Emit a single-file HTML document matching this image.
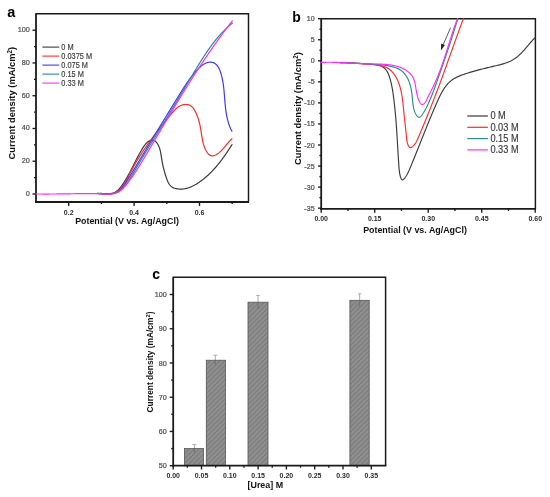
<!DOCTYPE html>
<html><head><meta charset="utf-8"><style>
html,body{margin:0;padding:0;background:#fff;}
svg{display:block;font-family:'Liberation Sans', Arial, sans-serif;}
</style></head><body>
<svg width="550" height="497" viewBox="0 0 550 497">
<rect width="550" height="497" fill="#fff"/>
<polyline points="36.0,13.7 248.5,13.7 248.5,202.0" fill="none" stroke="#1a1a1a" stroke-width="1.45" stroke-linejoin="miter"/>
<line x1="36.0" y1="13.2" x2="36.0" y2="202.9" stroke="#1a1a1a" stroke-width="1.8"/>
<line x1="35.1" y1="202.0" x2="249.0" y2="202.0" stroke="#1a1a1a" stroke-width="1.8"/>
<line x1="32.5" y1="194.00" x2="36.0" y2="194.00" stroke="#1a1a1a" stroke-width="1.35"/>
<text transform="translate(29.8,196.00) scale(1,1.1)" font-size="7.3" fill="#505050" stroke="#505050" stroke-width="0.22" text-anchor="end">0</text>
<line x1="32.5" y1="161.24" x2="36.0" y2="161.24" stroke="#1a1a1a" stroke-width="1.35"/>
<text transform="translate(29.8,163.24) scale(1,1.1)" font-size="7.3" fill="#505050" stroke="#505050" stroke-width="0.22" text-anchor="end">20</text>
<line x1="32.5" y1="128.48" x2="36.0" y2="128.48" stroke="#1a1a1a" stroke-width="1.35"/>
<text transform="translate(29.8,130.48) scale(1,1.1)" font-size="7.3" fill="#505050" stroke="#505050" stroke-width="0.22" text-anchor="end">40</text>
<line x1="32.5" y1="95.72" x2="36.0" y2="95.72" stroke="#1a1a1a" stroke-width="1.35"/>
<text transform="translate(29.8,97.72) scale(1,1.1)" font-size="7.3" fill="#505050" stroke="#505050" stroke-width="0.22" text-anchor="end">60</text>
<line x1="32.5" y1="62.96" x2="36.0" y2="62.96" stroke="#1a1a1a" stroke-width="1.35"/>
<text transform="translate(29.8,64.96) scale(1,1.1)" font-size="7.3" fill="#505050" stroke="#505050" stroke-width="0.22" text-anchor="end">80</text>
<line x1="32.5" y1="30.20" x2="36.0" y2="30.20" stroke="#1a1a1a" stroke-width="1.35"/>
<text transform="translate(29.8,32.20) scale(1,1.1)" font-size="7.3" fill="#505050" stroke="#505050" stroke-width="0.22" text-anchor="end">100</text>
<line x1="34.0" y1="177.62" x2="36.0" y2="177.62" stroke="#1a1a1a" stroke-width="1.35"/>
<line x1="34.0" y1="144.86" x2="36.0" y2="144.86" stroke="#1a1a1a" stroke-width="1.35"/>
<line x1="34.0" y1="112.10" x2="36.0" y2="112.10" stroke="#1a1a1a" stroke-width="1.35"/>
<line x1="34.0" y1="79.34" x2="36.0" y2="79.34" stroke="#1a1a1a" stroke-width="1.35"/>
<line x1="34.0" y1="46.58" x2="36.0" y2="46.58" stroke="#1a1a1a" stroke-width="1.35"/>
<line x1="68.70" y1="202.0" x2="68.70" y2="206.0" stroke="#1a1a1a" stroke-width="1.35"/>
<text transform="translate(68.70,214.6) scale(1,1.1)" font-size="7" font-weight="bold" fill="#2a2a2a" text-anchor="middle">0.2</text>
<line x1="134.10" y1="202.0" x2="134.10" y2="206.0" stroke="#1a1a1a" stroke-width="1.35"/>
<text transform="translate(134.10,214.6) scale(1,1.1)" font-size="7" font-weight="bold" fill="#2a2a2a" text-anchor="middle">0.4</text>
<line x1="199.50" y1="202.0" x2="199.50" y2="206.0" stroke="#1a1a1a" stroke-width="1.35"/>
<text transform="translate(199.50,214.6) scale(1,1.1)" font-size="7" font-weight="bold" fill="#2a2a2a" text-anchor="middle">0.6</text>
<line x1="101.40" y1="202.0" x2="101.40" y2="204.0" stroke="#1a1a1a" stroke-width="1.35"/>
<line x1="166.80" y1="202.0" x2="166.80" y2="204.0" stroke="#1a1a1a" stroke-width="1.35"/>
<line x1="232.20" y1="202.0" x2="232.20" y2="204.0" stroke="#1a1a1a" stroke-width="1.35"/>
<text x="127" y="223.6" font-size="8.9" font-weight="bold" fill="#111" text-anchor="middle">Potential (V vs. Ag/AgCl)</text>
<text transform="translate(15.0,103.1) rotate(-90)" x="0" y="0" font-size="9.35" font-weight="bold" fill="#111" text-anchor="middle">Current density (mA/cm<tspan font-size="6.3" dy="-3.4">2</tspan><tspan dy="3.4">)</tspan></text>
<text x="7.2" y="17.2" font-size="14.5" font-weight="bold" fill="#000">a</text>
<line x1="42.4" y1="47.10" x2="59.3" y2="47.10" stroke="#3a3a3a" stroke-width="1.1"/>
<text transform="translate(61.3,49.80) scale(1,1.1)" font-size="7.4" fill="#3c3c3c" stroke="#3c3c3c" stroke-width="0.15">0 M</text>
<line x1="42.4" y1="56.10" x2="59.3" y2="56.10" stroke="#ff2a2a" stroke-width="1.1"/>
<text transform="translate(61.3,58.80) scale(1,1.1)" font-size="7.4" fill="#3c3c3c" stroke="#3c3c3c" stroke-width="0.15">0.0375 M</text>
<line x1="42.4" y1="65.10" x2="59.3" y2="65.10" stroke="#3a3aff" stroke-width="1.1"/>
<text transform="translate(61.3,67.80) scale(1,1.1)" font-size="7.4" fill="#3c3c3c" stroke="#3c3c3c" stroke-width="0.15">0.075 M</text>
<line x1="42.4" y1="74.10" x2="59.3" y2="74.10" stroke="#2a8c8c" stroke-width="1.1"/>
<text transform="translate(61.3,76.80) scale(1,1.1)" font-size="7.4" fill="#3c3c3c" stroke="#3c3c3c" stroke-width="0.15">0.15 M</text>
<line x1="42.4" y1="83.10" x2="59.3" y2="83.10" stroke="#ff2aff" stroke-width="1.1"/>
<text transform="translate(61.3,85.80) scale(1,1.1)" font-size="7.4" fill="#3c3c3c" stroke="#3c3c3c" stroke-width="0.15">0.33 M</text>
<g>
<polyline points="98.05,193.73 98.55,193.62 99.05,193.54 99.56,193.49 100.09,193.45 100.62,193.44 101.16,193.44 101.71,193.45 102.27,193.48 102.83,193.51 103.39,193.55 103.96,193.60 104.53,193.65 105.10,193.71 105.67,193.76 106.24,193.80 106.80,193.84 107.37,193.88 107.93,193.90 108.49,193.91 109.04,193.91 109.58,193.89 110.12,193.85 110.65,193.79 111.17,193.70 111.68,193.60 112.18,193.47 112.67,193.32 113.15,193.15 113.62,192.95 114.09,192.74 114.55,192.51 115.00,192.26 115.44,192.00 115.87,191.71 116.29,191.42 116.71,191.10 117.12,190.78 117.52,190.43 117.92,190.08 118.31,189.71 118.69,189.34 119.06,188.95 119.43,188.55 119.80,188.14 120.15,187.72 120.51,187.30 120.85,186.87 121.19,186.43 121.53,185.99 121.86,185.54 122.18,185.09 122.50,184.63 122.82,184.17 123.13,183.71 123.44,183.25 123.74,182.79 124.04,182.32 124.34,181.86 124.63,181.40 124.92,180.94 125.21,180.48 125.49,180.02 125.77,179.56 126.04,179.10 126.32,178.63 126.59,178.17 126.85,177.71 127.12,177.26 127.38,176.80 127.64,176.34 127.90,175.88 128.16,175.42 128.41,174.96 128.66,174.50 128.91,174.04 129.16,173.58 129.41,173.12 129.65,172.65 129.89,172.19 130.14,171.73 130.38,171.27 130.62,170.81 130.86,170.35 131.10,169.88 131.33,169.42 131.57,168.96 131.81,168.49 132.04,168.03 132.28,167.56 132.51,167.10 132.75,166.63 132.98,166.17 133.22,165.70 133.45,165.23 133.69,164.76 133.92,164.29 134.16,163.82 134.40,163.35 134.64,162.88 134.88,162.40 135.12,161.93 135.36,161.45 135.60,160.98 135.84,160.50 136.09,160.02 136.33,159.54 136.58,159.06 136.83,158.58 137.08,158.10 137.34,157.62 137.59,157.13 137.85,156.64 138.11,156.16 138.37,155.67 138.64,155.18 138.91,154.69 139.18,154.19 139.45,153.70 139.73,153.20 140.01,152.71 140.29,152.21 140.57,151.71 140.86,151.21 141.16,150.70 141.45,150.20 141.75,149.69 142.06,149.18 142.36,148.67 142.68,148.17 142.99,147.67 143.31,147.17 143.64,146.68 143.97,146.19 144.30,145.72 144.64,145.25 144.99,144.80 145.34,144.36 145.70,143.93 146.06,143.52 146.43,143.13 146.81,142.75 147.19,142.40 147.57,142.06 147.97,141.75 148.37,141.47 148.78,141.20 149.19,140.97 149.62,140.76 150.05,140.59 150.49,140.44 150.93,140.33 151.39,140.25 151.85,140.21 152.32,140.20 152.79,140.23 153.27,140.31 153.74,140.42 154.19,140.58 154.63,140.79 155.06,141.05 155.46,141.35 155.84,141.69 156.20,142.06 156.55,142.46 156.88,142.88 157.19,143.31 157.49,143.76 157.77,144.22 158.04,144.68 158.29,145.16 158.53,145.64 158.75,146.13 158.96,146.63 159.16,147.14 159.35,147.65 159.53,148.17 159.70,148.69 159.86,149.22 160.01,149.75 160.15,150.29 160.28,150.83 160.41,151.38 160.53,151.93 160.64,152.48 160.75,153.03 160.85,153.59 160.95,154.14 161.04,154.70 161.14,155.26 161.23,155.82 161.31,156.38 161.40,156.93 161.48,157.49 161.57,158.05 161.65,158.60 161.74,159.15 161.83,159.69 161.92,160.24 162.01,160.78 162.10,161.32 162.20,161.85 162.29,162.39 162.39,162.92 162.50,163.44 162.60,163.97 162.71,164.49 162.82,165.01 162.93,165.53 163.05,166.05 163.16,166.57 163.28,167.08 163.40,167.59 163.53,168.11 163.65,168.62 163.78,169.13 163.91,169.64 164.05,170.15 164.19,170.66 164.33,171.17 164.47,171.67 164.61,172.18 164.76,172.69 164.91,173.20 165.07,173.71 165.22,174.22 165.38,174.73 165.55,175.24 165.71,175.75 165.88,176.27 166.05,176.78 166.23,177.30 166.40,177.82 166.58,178.34 166.77,178.86 166.96,179.38 167.15,179.90 167.35,180.42 167.56,180.93 167.78,181.44 168.00,181.94 168.24,182.43 168.49,182.91 168.76,183.38 169.03,183.84 169.32,184.28 169.63,184.71 169.96,185.12 170.30,185.51 170.67,185.88 171.05,186.24 171.46,186.56 171.88,186.87 172.33,187.15 172.79,187.42 173.27,187.66 173.77,187.88 174.28,188.07 174.80,188.25 175.33,188.42 175.87,188.56 176.42,188.68 176.97,188.79 177.53,188.88 178.09,188.96 178.65,189.02 179.21,189.06 179.77,189.09 180.33,189.11 180.88,189.11 181.43,189.10 181.97,189.07 182.52,189.04 183.06,188.99 183.59,188.93 184.13,188.85 184.66,188.77 185.19,188.67 185.71,188.57 186.23,188.45 186.75,188.32 187.27,188.18 187.78,188.03 188.29,187.87 188.80,187.70 189.31,187.53 189.81,187.34 190.31,187.14 190.80,186.94 191.30,186.73 191.79,186.51 192.28,186.28 192.76,186.05 193.25,185.81 193.73,185.56 194.20,185.31 194.68,185.05 195.15,184.78 195.62,184.51 196.08,184.24 196.55,183.95 197.01,183.67 197.47,183.38 197.92,183.08 198.38,182.78 198.83,182.48 199.28,182.18 199.72,181.87 200.16,181.55 200.60,181.24 201.04,180.92 201.48,180.60 201.91,180.28 202.34,179.95 202.77,179.62 203.20,179.29 203.62,178.95 204.04,178.61 204.46,178.27 204.87,177.93 205.29,177.58 205.70,177.23 206.11,176.88 206.52,176.52 206.92,176.16 207.32,175.80 207.72,175.44 208.12,175.08 208.52,174.71 208.91,174.34 209.30,173.97 209.69,173.59 210.08,173.21 210.46,172.83 210.85,172.45 211.23,172.07 211.61,171.68 211.98,171.29 212.36,170.90 212.73,170.51 213.10,170.12 213.47,169.72 213.84,169.32 214.20,168.92 214.56,168.52 214.92,168.12 215.28,167.71 215.64,167.30 215.99,166.89 216.35,166.48 216.70,166.07 217.05,165.66 217.40,165.24 217.74,164.82 218.09,164.40 218.43,163.98 218.77,163.56 219.11,163.14 219.45,162.71 219.78,162.29 220.12,161.86 220.45,161.43 220.78,161.00 221.11,160.57 221.44,160.14 221.76,159.70 222.09,159.27 222.41,158.83 222.73,158.39 223.05,157.96 223.37,157.52 223.68,157.08 224.00,156.64 224.31,156.19 224.62,155.75 224.93,155.31 225.24,154.86 225.55,154.42 225.86,153.97 226.16,153.53 226.47,153.08 226.77,152.63 227.07,152.18 227.37,151.74 227.67,151.29 227.97,150.84 228.26,150.39 228.56,149.94 228.85,149.49 229.15,149.03 229.44,148.58 229.73,148.13 230.02,147.68 230.30,147.23 230.59,146.77 230.88,146.32 231.16,145.87 231.44,145.42 231.73,144.97 232.01,144.51" fill="none" stroke="#3a3a3a" stroke-width="1.2" stroke-linejoin="round" stroke-linecap="round"/>
<polyline points="98.06,193.43 98.57,193.49 99.09,193.55 99.62,193.60 100.16,193.65 100.71,193.70 101.26,193.75 101.81,193.79 102.37,193.82 102.94,193.85 103.51,193.87 104.08,193.89 104.65,193.90 105.23,193.90 105.80,193.90 106.38,193.88 106.96,193.86 107.53,193.83 108.10,193.79 108.67,193.75 109.24,193.69 109.81,193.62 110.37,193.54 110.92,193.45 111.47,193.34 112.01,193.23 112.55,193.10 113.08,192.96 113.60,192.81 114.11,192.64 114.61,192.46 115.10,192.26 115.58,192.05 116.05,191.83 116.51,191.59 116.96,191.34 117.40,191.07 117.83,190.79 118.26,190.50 118.67,190.19 119.07,189.88 119.47,189.55 119.86,189.21 120.24,188.86 120.61,188.50 120.98,188.13 121.33,187.75 121.68,187.36 122.03,186.96 122.37,186.55 122.70,186.13 123.03,185.70 123.35,185.27 123.66,184.83 123.97,184.38 124.27,183.93 124.58,183.47 124.87,183.00 125.16,182.53 125.45,182.05 125.73,181.57 126.02,181.08 126.29,180.59 126.57,180.09 126.84,179.59 127.11,179.09 127.38,178.58 127.64,178.07 127.91,177.56 128.17,177.05 128.43,176.54 128.69,176.02 128.95,175.51 129.21,174.99 129.47,174.47 129.73,173.96 129.99,173.44 130.25,172.93 130.51,172.41 130.78,171.90 131.04,171.39 131.30,170.88 131.57,170.38 131.84,169.87 132.10,169.37 132.37,168.86 132.64,168.36 132.91,167.86 133.18,167.36 133.46,166.87 133.73,166.37 134.01,165.88 134.28,165.38 134.56,164.89 134.84,164.40 135.11,163.91 135.39,163.43 135.68,162.94 135.96,162.45 136.24,161.97 136.52,161.49 136.81,161.01 137.09,160.53 137.38,160.05 137.67,159.57 137.96,159.09 138.24,158.62 138.53,158.14 138.83,157.67 139.12,157.20 139.41,156.73 139.70,156.26 140.00,155.79 140.29,155.32 140.59,154.85 140.89,154.39 141.19,153.92 141.49,153.46 141.79,153.00 142.09,152.53 142.39,152.07 142.69,151.61 143.00,151.15 143.30,150.69 143.60,150.24 143.91,149.78 144.22,149.32 144.53,148.87 144.83,148.41 145.14,147.96 145.45,147.51 145.76,147.06 146.08,146.61 146.39,146.16 146.70,145.71 147.02,145.26 147.33,144.81 147.65,144.36 147.96,143.91 148.28,143.47 148.60,143.02 148.92,142.58 149.24,142.13 149.56,141.69 149.88,141.25 150.20,140.80 150.52,140.36 150.85,139.92 151.17,139.48 151.50,139.04 151.82,138.60 152.15,138.16 152.48,137.72 152.80,137.28 153.13,136.84 153.46,136.40 153.79,135.96 154.12,135.53 154.45,135.09 154.79,134.65 155.12,134.22 155.45,133.78 155.79,133.35 156.12,132.91 156.46,132.47 156.79,132.04 157.13,131.60 157.47,131.17 157.80,130.74 158.14,130.30 158.48,129.87 158.82,129.43 159.16,129.00 159.50,128.57 159.84,128.13 160.19,127.70 160.53,127.27 160.87,126.83 161.22,126.40 161.56,125.97 161.91,125.53 162.25,125.10 162.60,124.67 162.95,124.23 163.30,123.80 163.64,123.37 163.99,122.94 164.34,122.50 164.69,122.07 165.04,121.63 165.39,121.20 165.74,120.77 166.10,120.33 166.45,119.90 166.80,119.46 167.16,119.03 167.51,118.59 167.86,118.16 168.22,117.72 168.58,117.29 168.93,116.85 169.29,116.42 169.65,115.98 170.00,115.54 170.36,115.10 170.72,114.67 171.08,114.23 171.44,113.79 171.80,113.35 172.16,112.92 172.52,112.48 172.89,112.05 173.26,111.62 173.63,111.19 174.00,110.78 174.38,110.36 174.77,109.96 175.16,109.56 175.55,109.17 175.95,108.79 176.36,108.42 176.78,108.06 177.20,107.71 177.63,107.38 178.07,107.06 178.51,106.75 178.97,106.46 179.44,106.19 179.92,105.93 180.40,105.69 180.90,105.47 181.42,105.27 181.94,105.09 182.48,104.93 183.02,104.80 183.57,104.68 184.13,104.59 184.70,104.53 185.26,104.49 185.82,104.47 186.38,104.49 186.94,104.53 187.48,104.59 188.02,104.69 188.55,104.82 189.06,104.98 189.56,105.17 190.04,105.39 190.50,105.64 190.95,105.93 191.37,106.24 191.78,106.59 192.17,106.95 192.54,107.34 192.90,107.75 193.24,108.18 193.57,108.63 193.89,109.10 194.20,109.57 194.49,110.06 194.78,110.56 195.05,111.07 195.31,111.58 195.57,112.10 195.82,112.62 196.06,113.14 196.29,113.66 196.52,114.18 196.74,114.70 196.95,115.22 197.16,115.73 197.36,116.25 197.55,116.77 197.74,117.29 197.93,117.81 198.10,118.33 198.28,118.85 198.44,119.37 198.61,119.90 198.76,120.42 198.91,120.94 199.06,121.47 199.20,121.99 199.34,122.52 199.47,123.05 199.60,123.58 199.73,124.11 199.85,124.64 199.97,125.18 200.08,125.71 200.19,126.25 200.29,126.79 200.40,127.33 200.49,127.88 200.59,128.43 200.68,128.97 200.77,129.52 200.86,130.08 200.95,130.63 201.04,131.19 201.12,131.74 201.20,132.30 201.29,132.86 201.37,133.42 201.45,133.98 201.54,134.54 201.62,135.10 201.71,135.66 201.80,136.22 201.89,136.78 201.98,137.34 202.08,137.90 202.18,138.46 202.28,139.01 202.39,139.57 202.50,140.12 202.61,140.68 202.73,141.23 202.86,141.78 202.99,142.33 203.13,142.87 203.27,143.42 203.42,143.96 203.58,144.49 203.74,145.03 203.91,145.56 204.09,146.09 204.28,146.62 204.48,147.14 204.69,147.66 204.90,148.17 205.13,148.68 205.36,149.19 205.61,149.69 205.86,150.19 206.13,150.68 206.41,151.17 206.70,151.65 207.01,152.12 207.32,152.58 207.65,153.02 207.99,153.44 208.34,153.84 208.70,154.21 209.08,154.55 209.47,154.86 209.87,155.13 210.28,155.37 210.71,155.56 211.15,155.70 211.61,155.79 212.07,155.84 212.55,155.83 213.04,155.78 213.53,155.69 214.03,155.56 214.54,155.40 215.05,155.20 215.55,154.97 216.06,154.72 216.57,154.43 217.06,154.13 217.56,153.81 218.04,153.47 218.52,153.12 218.99,152.76 219.44,152.39 219.89,152.01 220.32,151.62 220.75,151.22 221.17,150.81 221.58,150.40 221.98,149.99 222.38,149.56 222.77,149.14 223.15,148.70 223.53,148.27 223.90,147.83 224.27,147.39 224.64,146.95 225.00,146.51 225.36,146.07 225.72,145.62 226.08,145.18 226.43,144.75 226.79,144.31 227.14,143.88 227.50,143.45 227.85,143.02 228.21,142.60 228.57,142.19 228.93,141.78 229.30,141.38 229.67,140.99 230.04,140.60 230.42,140.23 230.80,139.86 231.19,139.50 231.59,139.16 231.99,138.83" fill="none" stroke="#ff2a2a" stroke-width="1.2" stroke-linejoin="round" stroke-linecap="round"/>
<polyline points="98.01,193.51 98.63,193.52 99.25,193.53 99.89,193.56 100.53,193.58 101.18,193.61 101.83,193.65 102.49,193.68 103.16,193.72 103.83,193.75 104.50,193.78 105.17,193.81 105.84,193.84 106.52,193.85 107.19,193.86 107.86,193.87 108.53,193.86 109.19,193.84 109.85,193.81 110.51,193.77 111.16,193.71 111.80,193.63 112.43,193.54 113.06,193.43 113.67,193.30 114.28,193.15 114.87,192.97 115.45,192.77 116.02,192.55 116.57,192.30 117.11,192.03 117.64,191.73 118.16,191.41 118.66,191.07 119.15,190.71 119.63,190.32 120.10,189.92 120.56,189.50 121.01,189.06 121.44,188.61 121.88,188.14 122.30,187.66 122.71,187.17 123.12,186.66 123.51,186.14 123.91,185.62 124.29,185.08 124.67,184.54 125.05,183.99 125.42,183.43 125.78,182.87 126.14,182.31 126.50,181.75 126.85,181.18 127.21,180.61 127.56,180.04 127.90,179.48 128.25,178.91 128.60,178.35 128.94,177.79 129.28,177.23 129.62,176.67 129.96,176.11 130.30,175.55 130.64,174.99 130.97,174.44 131.31,173.89 131.64,173.33 131.98,172.78 132.31,172.23 132.64,171.68 132.97,171.13 133.30,170.58 133.63,170.03 133.96,169.48 134.29,168.93 134.62,168.38 134.95,167.83 135.28,167.28 135.61,166.73 135.94,166.19 136.27,165.64 136.59,165.09 136.92,164.54 137.25,163.99 137.58,163.44 137.91,162.89 138.24,162.34 138.57,161.79 138.90,161.24 139.23,160.69 139.57,160.14 139.90,159.59 140.23,159.04 140.56,158.48 140.89,157.93 141.22,157.38 141.56,156.83 141.89,156.28 142.22,155.72 142.55,155.17 142.89,154.62 143.22,154.07 143.55,153.51 143.89,152.96 144.22,152.41 144.55,151.85 144.89,151.30 145.22,150.75 145.55,150.19 145.89,149.64 146.22,149.08 146.56,148.53 146.89,147.98 147.23,147.42 147.56,146.87 147.90,146.31 148.23,145.76 148.57,145.20 148.90,144.65 149.24,144.09 149.57,143.54 149.91,142.98 150.25,142.43 150.58,141.87 150.92,141.32 151.26,140.76 151.59,140.21 151.93,139.65 152.26,139.10 152.60,138.54 152.94,137.98 153.27,137.43 153.61,136.87 153.95,136.32 154.29,135.76 154.62,135.21 154.96,134.65 155.30,134.10 155.63,133.54 155.97,132.98 156.31,132.43 156.65,131.87 156.98,131.32 157.32,130.76 157.66,130.21 158.00,129.65 158.34,129.10 158.67,128.54 159.01,127.99 159.35,127.43 159.69,126.88 160.02,126.32 160.36,125.77 160.70,125.21 161.04,124.66 161.38,124.10 161.71,123.55 162.05,122.99 162.39,122.44 162.73,121.88 163.07,121.33 163.40,120.78 163.74,120.22 164.08,119.67 164.42,119.11 164.76,118.56 165.09,118.01 165.43,117.45 165.77,116.90 166.11,116.35 166.45,115.80 166.78,115.24 167.12,114.69 167.46,114.14 167.80,113.59 168.14,113.04 168.47,112.48 168.81,111.93 169.15,111.38 169.49,110.83 169.82,110.28 170.16,109.73 170.50,109.18 170.84,108.63 171.17,108.08 171.51,107.53 171.85,106.98 172.18,106.43 172.52,105.88 172.86,105.33 173.20,104.78 173.53,104.23 173.87,103.69 174.21,103.14 174.54,102.59 174.88,102.04 175.21,101.50 175.55,100.95 175.89,100.40 176.22,99.86 176.56,99.31 176.89,98.77 177.23,98.22 177.56,97.68 177.90,97.13 178.24,96.59 178.57,96.05 178.91,95.50 179.24,94.96 179.58,94.42 179.91,93.87 180.24,93.33 180.58,92.79 180.92,92.25 181.25,91.71 181.59,91.17 181.93,90.63 182.26,90.09 182.60,89.55 182.94,89.01 183.29,88.47 183.63,87.94 183.97,87.40 184.32,86.86 184.67,86.33 185.02,85.79 185.37,85.26 185.72,84.72 186.08,84.19 186.44,83.66 186.80,83.13 187.16,82.60 187.53,82.07 187.90,81.54 188.27,81.01 188.65,80.48 189.03,79.95 189.41,79.43 189.79,78.90 190.18,78.38 190.58,77.85 190.97,77.33 191.37,76.81 191.78,76.29 192.19,75.77 192.60,75.25 193.02,74.73 193.44,74.22 193.87,73.70 194.30,73.18 194.74,72.67 195.18,72.16 195.63,71.65 196.09,71.14 196.54,70.63 197.01,70.12 197.48,69.62 197.95,69.12 198.43,68.63 198.92,68.14 199.41,67.67 199.91,67.20 200.41,66.75 200.92,66.31 201.44,65.89 201.96,65.48 202.49,65.09 203.02,64.71 203.56,64.36 204.10,64.03 204.65,63.72 205.21,63.44 205.77,63.18 206.34,62.95 206.91,62.75 207.49,62.57 208.08,62.43 208.67,62.32 209.27,62.24 209.86,62.20 210.46,62.19 211.05,62.22 211.64,62.28 212.22,62.37 212.78,62.51 213.33,62.68 213.86,62.89 214.38,63.14 214.87,63.42 215.34,63.74 215.79,64.10 216.22,64.48 216.63,64.90 217.03,65.35 217.41,65.82 217.77,66.32 218.11,66.84 218.44,67.39 218.75,67.95 219.05,68.53 219.33,69.13 219.60,69.74 219.86,70.37 220.10,71.01 220.34,71.65 220.56,72.30 220.77,72.96 220.97,73.62 221.17,74.29 221.35,74.95 221.53,75.62 221.70,76.28 221.86,76.93 222.01,77.59 222.16,78.24 222.30,78.89 222.44,79.54 222.57,80.18 222.69,80.83 222.81,81.47 222.92,82.11 223.03,82.75 223.13,83.39 223.23,84.03 223.32,84.66 223.41,85.30 223.49,85.93 223.57,86.57 223.65,87.20 223.72,87.84 223.79,88.47 223.86,89.10 223.92,89.74 223.99,90.37 224.05,91.00 224.10,91.64 224.16,92.27 224.22,92.91 224.27,93.55 224.32,94.19 224.38,94.83 224.43,95.47 224.48,96.11 224.53,96.75 224.58,97.40 224.63,98.04 224.68,98.69 224.73,99.34 224.79,99.99 224.84,100.64 224.89,101.29 224.95,101.94 225.01,102.59 225.06,103.24 225.12,103.89 225.19,104.54 225.25,105.19 225.31,105.85 225.38,106.50 225.45,107.15 225.53,107.80 225.60,108.45 225.68,109.10 225.76,109.75 225.85,110.39 225.94,111.04 226.03,111.69 226.13,112.33 226.23,112.97 226.33,113.62 226.44,114.26 226.55,114.89 226.67,115.53 226.79,116.17 226.92,116.80 227.05,117.43 227.19,118.06 227.33,118.69 227.48,119.31 227.63,119.93 227.79,120.55 227.96,121.17 228.13,121.78 228.31,122.39 228.50,123.00 228.69,123.60 228.89,124.20 229.10,124.80 229.31,125.40 229.53,125.99 229.76,126.57 230.00,127.16 230.24,127.74 230.49,128.31 230.75,128.89 231.02,129.45 231.30,130.02 231.59,130.57 231.88,131.13" fill="none" stroke="#3a3aff" stroke-width="1.2" stroke-linejoin="round" stroke-linecap="round"/>
<polyline points="97.83,193.21 98.43,193.34 99.02,193.46 99.62,193.58 100.22,193.68 100.82,193.78 101.42,193.86 102.02,193.94 102.62,194.01 103.22,194.07 103.82,194.12 104.41,194.16 105.00,194.19 105.60,194.21 106.18,194.22 106.77,194.22 107.35,194.21 107.93,194.19 108.51,194.16 109.08,194.12 109.65,194.07 110.22,194.00 110.78,193.93 111.33,193.84 111.88,193.75 112.42,193.64 112.96,193.52 113.50,193.39 114.02,193.24 114.54,193.09 115.05,192.92 115.56,192.74 116.06,192.55 116.55,192.34 117.03,192.13 117.51,191.90 117.97,191.66 118.43,191.40 118.88,191.14 119.33,190.86 119.76,190.57 120.19,190.27 120.61,189.96 121.03,189.64 121.44,189.31 121.84,188.97 122.24,188.63 122.63,188.27 123.01,187.90 123.39,187.52 123.76,187.14 124.13,186.75 124.50,186.35 124.85,185.94 125.21,185.53 125.56,185.10 125.90,184.68 126.24,184.24 126.58,183.80 126.91,183.35 127.24,182.90 127.56,182.44 127.88,181.98 128.20,181.51 128.52,181.04 128.83,180.57 129.14,180.09 129.44,179.61 129.75,179.12 130.05,178.63 130.35,178.14 130.65,177.64 130.95,177.15 131.25,176.65 131.54,176.15 131.83,175.65 132.13,175.15 132.42,174.64 132.71,174.14 133.00,173.64 133.29,173.13 133.58,172.63 133.87,172.13 134.17,171.63 134.46,171.13 134.75,170.63 135.04,170.13 135.33,169.63 135.62,169.13 135.92,168.63 136.21,168.13 136.50,167.63 136.79,167.14 137.09,166.64 137.38,166.15 137.67,165.65 137.96,165.16 138.26,164.66 138.55,164.17 138.84,163.67 139.13,163.18 139.43,162.69 139.72,162.20 140.01,161.71 140.31,161.21 140.60,160.72 140.89,160.23 141.19,159.74 141.48,159.25 141.78,158.77 142.07,158.28 142.36,157.79 142.66,157.30 142.95,156.81 143.24,156.33 143.54,155.84 143.83,155.35 144.13,154.87 144.42,154.38 144.71,153.90 145.01,153.41 145.30,152.93 145.60,152.44 145.89,151.96 146.19,151.47 146.48,150.99 146.78,150.51 147.07,150.03 147.36,149.54 147.66,149.06 147.95,148.58 148.25,148.10 148.54,147.61 148.84,147.13 149.13,146.65 149.43,146.17 149.72,145.69 150.02,145.21 150.31,144.73 150.61,144.25 150.90,143.77 151.19,143.29 151.49,142.81 151.78,142.33 152.08,141.85 152.37,141.37 152.67,140.89 152.96,140.42 153.26,139.94 153.55,139.46 153.85,138.98 154.14,138.50 154.44,138.02 154.73,137.54 155.02,137.07 155.32,136.59 155.61,136.11 155.91,135.63 156.20,135.16 156.50,134.68 156.79,134.20 157.08,133.72 157.38,133.25 157.67,132.77 157.97,132.29 158.26,131.81 158.56,131.34 158.85,130.86 159.14,130.38 159.44,129.90 159.73,129.43 160.02,128.95 160.32,128.47 160.61,127.99 160.91,127.52 161.20,127.04 161.49,126.56 161.79,126.08 162.08,125.60 162.37,125.13 162.67,124.65 162.96,124.17 163.25,123.69 163.54,123.21 163.84,122.73 164.13,122.26 164.42,121.78 164.71,121.30 165.01,120.82 165.30,120.34 165.59,119.86 165.88,119.38 166.18,118.90 166.47,118.42 166.76,117.94 167.05,117.46 167.34,116.98 167.63,116.50 167.92,116.02 168.22,115.54 168.51,115.06 168.80,114.57 169.09,114.09 169.38,113.61 169.67,113.13 169.96,112.65 170.25,112.16 170.54,111.68 170.83,111.20 171.12,110.72 171.41,110.23 171.70,109.75 171.99,109.26 172.28,108.78 172.57,108.30 172.86,107.81 173.15,107.33 173.44,106.84 173.73,106.36 174.02,105.88 174.31,105.39 174.60,104.91 174.89,104.42 175.18,103.94 175.47,103.45 175.76,102.96 176.04,102.48 176.33,101.99 176.62,101.51 176.91,101.02 177.20,100.54 177.49,100.05 177.78,99.56 178.07,99.08 178.36,98.59 178.65,98.11 178.93,97.62 179.22,97.13 179.51,96.65 179.80,96.16 180.09,95.67 180.38,95.19 180.67,94.70 180.96,94.21 181.25,93.73 181.54,93.24 181.82,92.75 182.11,92.27 182.40,91.78 182.69,91.29 182.98,90.81 183.27,90.32 183.56,89.83 183.85,89.35 184.14,88.86 184.43,88.37 184.72,87.88 185.01,87.40 185.30,86.91 185.58,86.42 185.87,85.94 186.16,85.45 186.45,84.96 186.74,84.48 187.03,83.99 187.32,83.50 187.61,83.02 187.90,82.53 188.19,82.05 188.48,81.56 188.77,81.07 189.07,80.59 189.36,80.10 189.65,79.62 189.94,79.13 190.23,78.64 190.52,78.16 190.81,77.67 191.10,77.19 191.39,76.70 191.68,76.22 191.98,75.73 192.27,75.25 192.56,74.76 192.85,74.28 193.14,73.79 193.44,73.31 193.73,72.82 194.02,72.34 194.31,71.86 194.61,71.37 194.90,70.89 195.19,70.41 195.49,69.92 195.78,69.44 196.07,68.96 196.37,68.47 196.66,67.99 196.96,67.51 197.25,67.03 197.55,66.54 197.84,66.06 198.14,65.58 198.43,65.10 198.73,64.62 199.02,64.14 199.32,63.66 199.62,63.18 199.92,62.70 200.21,62.22 200.51,61.74 200.81,61.26 201.11,60.79 201.41,60.31 201.71,59.83 202.01,59.36 202.32,58.88 202.62,58.41 202.92,57.93 203.23,57.46 203.53,56.99 203.84,56.51 204.15,56.04 204.46,55.57 204.76,55.10 205.07,54.63 205.38,54.16 205.70,53.69 206.01,53.22 206.32,52.76 206.64,52.29 206.95,51.83 207.27,51.36 207.59,50.90 207.91,50.44 208.23,49.98 208.55,49.51 208.87,49.06 209.19,48.60 209.52,48.14 209.85,47.68 210.17,47.23 210.50,46.77 210.83,46.32 211.17,45.87 211.50,45.41 211.83,44.96 212.17,44.51 212.51,44.07 212.85,43.62 213.19,43.17 213.53,42.73 213.88,42.28 214.22,41.84 214.57,41.40 214.92,40.96 215.27,40.52 215.62,40.09 215.98,39.65 216.33,39.22 216.69,38.78 217.05,38.35 217.41,37.92 217.78,37.49 218.14,37.07 218.51,36.64 218.88,36.22 219.25,35.79 219.63,35.37 220.00,34.95 220.38,34.53 220.76,34.12 221.15,33.70 221.53,33.29 221.92,32.88 222.31,32.47 222.70,32.06 223.09,31.65 223.49,31.25 223.89,30.84 224.29,30.44 224.69,30.04 225.09,29.64 225.50,29.25 225.91,28.85 226.33,28.46 226.74,28.07 227.16,27.68 227.58,27.29 228.00,26.91 228.43,26.53 228.86,26.15 229.29,25.77 229.72,25.39 230.16,25.01 230.60,24.64 231.04,24.27 231.49,23.90 231.93,23.53 232.38,23.17" fill="none" stroke="#2a8c8c" stroke-width="1.2" stroke-linejoin="round" stroke-linecap="round"/>
<polyline points="35.99,193.96 36.71,193.97 37.44,193.98 38.17,193.99 38.90,194.00 39.63,194.00 40.35,194.01 41.08,194.02 41.81,194.02 42.53,194.02 43.26,194.03 43.99,194.03 44.71,194.03 45.44,194.03 46.17,194.03 46.89,194.03 47.62,194.03 48.34,194.03 49.07,194.03 49.79,194.02 50.52,194.02 51.24,194.02 51.97,194.01 52.69,194.01 53.42,194.00 54.14,194.00 54.86,193.99 55.59,193.98 56.31,193.98 57.04,193.97 57.76,193.96 58.48,193.95 59.21,193.94 59.93,193.94 60.65,193.93 61.38,193.92 62.10,193.91 62.82,193.90 63.55,193.89 64.27,193.88 64.99,193.87 65.71,193.86 66.44,193.85 67.16,193.84 67.88,193.83 68.60,193.82 69.33,193.81 70.05,193.79 70.77,193.78 71.49,193.77 72.22,193.76 72.94,193.75 73.66,193.74 74.38,193.73 75.11,193.72 75.83,193.71 76.55,193.70 77.27,193.69 78.00,193.68 78.72,193.68 79.44,193.67 80.16,193.66 80.89,193.65 81.61,193.64 82.33,193.64 83.05,193.63 83.78,193.62 84.50,193.62 85.22,193.61 85.94,193.61 86.67,193.60 87.39,193.60 88.11,193.59 88.84,193.59 89.56,193.59 90.28,193.58 91.01,193.58 91.73,193.58 92.46,193.58 93.18,193.59 93.91,193.59 94.63,193.60 95.36,193.60 96.09,193.61 96.83,193.63 97.56,193.64 98.30,193.66 99.04,193.68 99.78,193.71 100.52,193.74 101.27,193.77 102.02,193.81 102.77,193.85 103.53,193.89 104.29,193.94 105.05,193.98 105.81,194.02 106.56,194.06 107.32,194.09 108.07,194.11 108.82,194.12 109.56,194.12 110.30,194.10 111.03,194.07 111.75,194.02 112.46,193.95 113.16,193.86 113.86,193.74 114.54,193.60 115.21,193.44 115.86,193.24 116.50,193.01 117.13,192.76 117.74,192.48 118.34,192.16 118.92,191.82 119.49,191.45 120.05,191.05 120.59,190.64 121.12,190.20 121.64,189.74 122.16,189.26 122.66,188.77 123.16,188.27 123.64,187.75 124.12,187.22 124.60,186.69 125.07,186.15 125.54,185.60 126.00,185.05 126.46,184.50 126.91,183.95 127.36,183.39 127.81,182.83 128.26,182.26 128.70,181.69 129.14,181.12 129.57,180.55 130.00,179.97 130.43,179.40 130.86,178.82 131.28,178.23 131.70,177.65 132.12,177.06 132.53,176.47 132.95,175.87 133.36,175.28 133.77,174.68 134.17,174.08 134.57,173.48 134.98,172.88 135.37,172.28 135.77,171.67 136.17,171.06 136.56,170.45 136.95,169.84 137.34,169.23 137.73,168.62 138.12,168.00 138.50,167.39 138.89,166.77 139.27,166.15 139.65,165.53 140.03,164.91 140.41,164.29 140.79,163.67 141.17,163.05 141.55,162.42 141.92,161.80 142.30,161.18 142.67,160.55 143.05,159.93 143.42,159.30 143.79,158.68 144.17,158.05 144.54,157.43 144.91,156.80 145.29,156.18 145.66,155.55 146.03,154.93 146.41,154.30 146.78,153.68 147.15,153.05 147.52,152.43 147.89,151.80 148.27,151.18 148.64,150.55 149.01,149.92 149.38,149.30 149.75,148.67 150.12,148.05 150.49,147.42 150.86,146.80 151.23,146.17 151.60,145.55 151.97,144.92 152.34,144.30 152.71,143.67 153.09,143.04 153.46,142.42 153.83,141.79 154.20,141.17 154.57,140.54 154.93,139.92 155.30,139.29 155.67,138.67 156.04,138.04 156.41,137.42 156.78,136.79 157.15,136.17 157.52,135.54 157.89,134.92 158.26,134.29 158.63,133.67 159.00,133.04 159.37,132.42 159.74,131.79 160.11,131.17 160.48,130.54 160.85,129.92 161.22,129.29 161.59,128.67 161.96,128.04 162.33,127.42 162.70,126.79 163.06,126.17 163.43,125.55 163.80,124.92 164.17,124.30 164.54,123.67 164.91,123.05 165.28,122.43 165.65,121.80 166.02,121.18 166.39,120.56 166.76,119.93 167.14,119.31 167.51,118.69 167.88,118.06 168.25,117.44 168.62,116.82 168.99,116.20 169.36,115.57 169.73,114.95 170.10,114.33 170.47,113.71 170.85,113.08 171.22,112.46 171.59,111.84 171.96,111.22 172.33,110.60 172.71,109.98 173.08,109.35 173.45,108.73 173.83,108.11 174.20,107.49 174.57,106.87 174.95,106.25 175.32,105.63 175.69,105.01 176.07,104.39 176.44,103.77 176.82,103.15 177.19,102.53 177.57,101.91 177.94,101.29 178.32,100.68 178.69,100.06 179.07,99.44 179.45,98.82 179.82,98.20 180.20,97.58 180.58,96.97 180.95,96.35 181.33,95.73 181.71,95.11 182.09,94.50 182.47,93.88 182.84,93.26 183.22,92.65 183.60,92.03 183.98,91.42 184.36,90.80 184.74,90.18 185.12,89.57 185.51,88.95 185.89,88.34 186.27,87.73 186.65,87.11 187.03,86.50 187.42,85.88 187.80,85.27 188.18,84.66 188.57,84.04 188.95,83.43 189.33,82.82 189.72,82.21 190.11,81.59 190.49,80.98 190.88,80.37 191.26,79.76 191.65,79.15 192.04,78.54 192.43,77.93 192.81,77.32 193.20,76.71 193.59,76.10 193.98,75.49 194.37,74.88 194.76,74.27 195.15,73.66 195.54,73.05 195.94,72.44 196.33,71.84 196.72,71.23 197.11,70.62 197.51,70.02 197.90,69.41 198.30,68.80 198.69,68.20 199.09,67.59 199.48,66.99 199.88,66.38 200.28,65.78 200.67,65.17 201.07,64.57 201.47,63.97 201.87,63.36 202.27,62.76 202.67,62.16 203.07,61.56 203.47,60.95 203.87,60.35 204.28,59.75 204.68,59.15 205.08,58.55 205.49,57.95 205.89,57.35 206.30,56.75 206.70,56.15 207.11,55.55 207.52,54.95 207.92,54.36 208.33,53.76 208.74,53.16 209.15,52.57 209.56,51.97 209.97,51.37 210.38,50.78 210.80,50.18 211.21,49.59 211.62,48.99 212.04,48.40 212.45,47.80 212.87,47.21 213.28,46.62 213.70,46.03 214.12,45.43 214.53,44.84 214.95,44.25 215.37,43.66 215.79,43.07 216.21,42.48 216.63,41.89 217.06,41.30 217.48,40.71 217.90,40.12 218.33,39.54 218.75,38.95 219.18,38.36 219.60,37.77 220.03,37.19 220.46,36.60 220.89,36.02 221.32,35.43 221.75,34.85 222.18,34.26 222.61,33.68 223.04,33.10 223.48,32.51 223.91,31.93 224.35,31.35 224.78,30.77 225.22,30.19 225.66,29.61 226.09,29.03 226.53,28.45 226.97,27.87 227.41,27.29 227.85,26.71 228.30,26.14 228.74,25.56 229.18,24.98 229.63,24.41 230.07,23.83 230.52,23.26 230.97,22.68 231.42,22.11 231.86,21.54 232.31,20.96" fill="none" stroke="#ff2aff" stroke-width="1.2" stroke-linejoin="round" stroke-linecap="round"/>
</g>
<polyline points="321.2,18.7 535.4,18.7 535.4,208.9" fill="none" stroke="#1a1a1a" stroke-width="1.45" stroke-linejoin="miter"/>
<line x1="321.2" y1="18.2" x2="321.2" y2="209.8" stroke="#1a1a1a" stroke-width="1.8"/>
<line x1="320.3" y1="208.9" x2="535.9" y2="208.9" stroke="#1a1a1a" stroke-width="1.8"/>
<line x1="318.0" y1="208.15" x2="321.2" y2="208.15" stroke="#1a1a1a" stroke-width="1.35"/>
<text transform="translate(314.6,210.65) scale(1,1.1)" font-size="7.1" fill="#505050" stroke="#505050" stroke-width="0.22" text-anchor="end">-35</text>
<line x1="318.0" y1="187.10" x2="321.2" y2="187.10" stroke="#1a1a1a" stroke-width="1.35"/>
<text transform="translate(314.6,189.60) scale(1,1.1)" font-size="7.1" fill="#505050" stroke="#505050" stroke-width="0.22" text-anchor="end">-30</text>
<line x1="318.0" y1="166.05" x2="321.2" y2="166.05" stroke="#1a1a1a" stroke-width="1.35"/>
<text transform="translate(314.6,168.55) scale(1,1.1)" font-size="7.1" fill="#505050" stroke="#505050" stroke-width="0.22" text-anchor="end">-25</text>
<line x1="318.0" y1="145.00" x2="321.2" y2="145.00" stroke="#1a1a1a" stroke-width="1.35"/>
<text transform="translate(314.6,147.50) scale(1,1.1)" font-size="7.1" fill="#505050" stroke="#505050" stroke-width="0.22" text-anchor="end">-20</text>
<line x1="318.0" y1="123.95" x2="321.2" y2="123.95" stroke="#1a1a1a" stroke-width="1.35"/>
<text transform="translate(314.6,126.45) scale(1,1.1)" font-size="7.1" fill="#505050" stroke="#505050" stroke-width="0.22" text-anchor="end">-15</text>
<line x1="318.0" y1="102.90" x2="321.2" y2="102.90" stroke="#1a1a1a" stroke-width="1.35"/>
<text transform="translate(314.6,105.40) scale(1,1.1)" font-size="7.1" fill="#505050" stroke="#505050" stroke-width="0.22" text-anchor="end">-10</text>
<line x1="318.0" y1="81.85" x2="321.2" y2="81.85" stroke="#1a1a1a" stroke-width="1.35"/>
<text transform="translate(314.6,84.35) scale(1,1.1)" font-size="7.1" fill="#505050" stroke="#505050" stroke-width="0.22" text-anchor="end">-5</text>
<line x1="318.0" y1="60.80" x2="321.2" y2="60.80" stroke="#1a1a1a" stroke-width="1.35"/>
<text transform="translate(314.6,63.30) scale(1,1.1)" font-size="7.1" fill="#505050" stroke="#505050" stroke-width="0.22" text-anchor="end">0</text>
<line x1="318.0" y1="39.75" x2="321.2" y2="39.75" stroke="#1a1a1a" stroke-width="1.35"/>
<text transform="translate(314.6,42.25) scale(1,1.1)" font-size="7.1" fill="#505050" stroke="#505050" stroke-width="0.22" text-anchor="end">5</text>
<line x1="318.0" y1="18.70" x2="321.2" y2="18.70" stroke="#1a1a1a" stroke-width="1.35"/>
<text transform="translate(314.6,21.20) scale(1,1.1)" font-size="7.1" fill="#505050" stroke="#505050" stroke-width="0.22" text-anchor="end">10</text>
<line x1="319.4" y1="197.62" x2="321.2" y2="197.62" stroke="#1a1a1a" stroke-width="1.35"/>
<line x1="319.4" y1="176.57" x2="321.2" y2="176.57" stroke="#1a1a1a" stroke-width="1.35"/>
<line x1="319.4" y1="155.52" x2="321.2" y2="155.52" stroke="#1a1a1a" stroke-width="1.35"/>
<line x1="319.4" y1="134.47" x2="321.2" y2="134.47" stroke="#1a1a1a" stroke-width="1.35"/>
<line x1="319.4" y1="113.42" x2="321.2" y2="113.42" stroke="#1a1a1a" stroke-width="1.35"/>
<line x1="319.4" y1="92.38" x2="321.2" y2="92.38" stroke="#1a1a1a" stroke-width="1.35"/>
<line x1="319.4" y1="71.33" x2="321.2" y2="71.33" stroke="#1a1a1a" stroke-width="1.35"/>
<line x1="319.4" y1="50.27" x2="321.2" y2="50.27" stroke="#1a1a1a" stroke-width="1.35"/>
<line x1="319.4" y1="29.22" x2="321.2" y2="29.22" stroke="#1a1a1a" stroke-width="1.35"/>
<line x1="321.20" y1="208.9" x2="321.20" y2="212.70000000000002" stroke="#1a1a1a" stroke-width="1.35"/>
<text transform="translate(321.20,221.1) scale(1,1.1)" font-size="7" font-weight="bold" fill="#2a2a2a" text-anchor="middle">0.00</text>
<line x1="374.70" y1="208.9" x2="374.70" y2="212.70000000000002" stroke="#1a1a1a" stroke-width="1.35"/>
<text transform="translate(374.70,221.1) scale(1,1.1)" font-size="7" font-weight="bold" fill="#2a2a2a" text-anchor="middle">0.15</text>
<line x1="428.21" y1="208.9" x2="428.21" y2="212.70000000000002" stroke="#1a1a1a" stroke-width="1.35"/>
<text transform="translate(428.21,221.1) scale(1,1.1)" font-size="7" font-weight="bold" fill="#2a2a2a" text-anchor="middle">0.30</text>
<line x1="481.71" y1="208.9" x2="481.71" y2="212.70000000000002" stroke="#1a1a1a" stroke-width="1.35"/>
<text transform="translate(481.71,221.1) scale(1,1.1)" font-size="7" font-weight="bold" fill="#2a2a2a" text-anchor="middle">0.45</text>
<line x1="535.22" y1="208.9" x2="535.22" y2="212.70000000000002" stroke="#1a1a1a" stroke-width="1.35"/>
<text transform="translate(535.22,221.1) scale(1,1.1)" font-size="7" font-weight="bold" fill="#2a2a2a" text-anchor="middle">0.60</text>
<line x1="347.95" y1="208.9" x2="347.95" y2="210.9" stroke="#1a1a1a" stroke-width="1.35"/>
<line x1="401.46" y1="208.9" x2="401.46" y2="210.9" stroke="#1a1a1a" stroke-width="1.35"/>
<line x1="454.96" y1="208.9" x2="454.96" y2="210.9" stroke="#1a1a1a" stroke-width="1.35"/>
<line x1="508.47" y1="208.9" x2="508.47" y2="210.9" stroke="#1a1a1a" stroke-width="1.35"/>
<text x="415" y="233.2" font-size="8.9" font-weight="bold" fill="#111" text-anchor="middle">Potential (V vs. Ag/AgCl)</text>
<text transform="translate(300.9,108.6) rotate(-90)" x="0" y="0" font-size="9.4" font-weight="bold" fill="#111" text-anchor="middle">Current density (mA/cm<tspan font-size="6.3" dy="-3.4">2</tspan><tspan dy="3.4">)</tspan></text>
<text x="292.2" y="21.6" font-size="14" font-weight="bold" fill="#000">b</text>
<line x1="467.3" y1="116.00" x2="487.9" y2="116.00" stroke="#3a3a3a" stroke-width="1.2"/>
<text transform="translate(490.4,119.30) scale(1,1.1)" font-size="9.25" fill="#3c3c3c" stroke="#3c3c3c" stroke-width="0.15">0 M</text>
<line x1="467.3" y1="127.30" x2="487.9" y2="127.30" stroke="#ff2a2a" stroke-width="1.2"/>
<text transform="translate(490.4,130.60) scale(1,1.1)" font-size="9.25" fill="#3c3c3c" stroke="#3c3c3c" stroke-width="0.15">0.03 M</text>
<line x1="467.3" y1="138.60" x2="487.9" y2="138.60" stroke="#2a8c8c" stroke-width="1.2"/>
<text transform="translate(490.4,141.90) scale(1,1.1)" font-size="9.25" fill="#3c3c3c" stroke="#3c3c3c" stroke-width="0.15">0.15 M</text>
<line x1="467.3" y1="149.90" x2="487.9" y2="149.90" stroke="#ff2aff" stroke-width="1.2"/>
<text transform="translate(490.4,153.20) scale(1,1.1)" font-size="9.25" fill="#3c3c3c" stroke="#3c3c3c" stroke-width="0.15">0.33 M</text>
<polyline points="340.01,62.61 340.92,62.62 341.83,62.64 342.75,62.66 343.67,62.68 344.60,62.71 345.53,62.74 346.46,62.77 347.40,62.81 348.34,62.85 349.27,62.89 350.21,62.94 351.15,62.98 352.09,63.03 353.02,63.07 353.96,63.12 354.89,63.17 355.81,63.22 356.74,63.27 357.66,63.32 358.57,63.37 359.48,63.42 360.39,63.47 361.30,63.52 362.21,63.57 363.11,63.63 364.02,63.68 364.93,63.75 365.84,63.81 366.75,63.88 367.67,63.95 368.59,64.03 369.52,64.11 370.45,64.20 371.39,64.29 372.33,64.39 373.29,64.49 374.25,64.61 375.22,64.73 376.19,64.86 377.16,65.01 378.12,65.19 379.07,65.40 379.98,65.65 380.86,65.94 381.71,66.29 382.50,66.70 383.25,67.17 383.95,67.69 384.60,68.26 385.21,68.89 385.79,69.56 386.32,70.27 386.82,71.01 387.28,71.79 387.71,72.61 388.12,73.44 388.49,74.30 388.84,75.18 389.17,76.07 389.48,76.98 389.77,77.89 390.05,78.80 390.31,79.72 390.56,80.64 390.80,81.55 391.02,82.47 391.24,83.38 391.44,84.29 391.63,85.21 391.82,86.12 392.00,87.04 392.17,87.95 392.33,88.86 392.48,89.78 392.63,90.69 392.77,91.60 392.91,92.52 393.05,93.43 393.18,94.34 393.31,95.26 393.43,96.17 393.55,97.09 393.67,98.00 393.79,98.92 393.91,99.83 394.02,100.75 394.13,101.67 394.24,102.58 394.35,103.50 394.45,104.42 394.55,105.34 394.65,106.25 394.75,107.17 394.84,108.09 394.94,109.01 395.03,109.93 395.12,110.85 395.21,111.77 395.30,112.69 395.38,113.61 395.46,114.53 395.55,115.45 395.63,116.37 395.71,117.29 395.78,118.21 395.86,119.14 395.93,120.06 396.01,120.98 396.08,121.90 396.15,122.83 396.22,123.75 396.29,124.67 396.35,125.60 396.42,126.52 396.48,127.45 396.55,128.37 396.61,129.30 396.67,130.22 396.73,131.15 396.80,132.07 396.86,133.00 396.91,133.92 396.97,134.85 397.03,135.78 397.09,136.70 397.15,137.63 397.20,138.56 397.26,139.48 397.31,140.41 397.37,141.34 397.42,142.27 397.48,143.20 397.53,144.12 397.59,145.05 397.64,145.98 397.70,146.91 397.75,147.84 397.81,148.77 397.86,149.70 397.92,150.63 397.97,151.56 398.03,152.49 398.08,153.42 398.14,154.35 398.19,155.28 398.25,156.21 398.31,157.14 398.36,158.07 398.42,159.00 398.48,159.94 398.54,160.87 398.60,161.80 398.66,162.73 398.72,163.66 398.79,164.60 398.85,165.53 398.91,166.46 398.98,167.39 399.05,168.33 399.13,169.27 399.23,170.21 399.34,171.15 399.47,172.11 399.62,173.06 399.80,174.03 400.01,175.01 400.26,175.99 400.54,176.98 400.86,177.91 401.22,178.72 401.62,179.36 402.06,179.76 402.55,179.87 403.08,179.67 403.63,179.24 404.18,178.68 404.71,178.07 405.22,177.41 405.71,176.72 406.19,176.00 406.65,175.25 407.09,174.47 407.53,173.67 407.95,172.84 408.36,171.99 408.76,171.13 409.15,170.26 409.54,169.38 409.92,168.48 410.29,167.59 410.66,166.69 411.03,165.80 411.40,164.90 411.77,164.01 412.13,163.12 412.50,162.23 412.86,161.34 413.22,160.46 413.58,159.58 413.93,158.69 414.29,157.82 414.64,156.94 415.00,156.06 415.35,155.19 415.70,154.31 416.05,153.44 416.40,152.57 416.75,151.70 417.10,150.83 417.44,149.97 417.79,149.10 418.13,148.24 418.48,147.37 418.82,146.51 419.17,145.65 419.51,144.79 419.85,143.93 420.19,143.08 420.53,142.22 420.87,141.36 421.21,140.51 421.55,139.65 421.90,138.80 422.24,137.95 422.58,137.09 422.92,136.24 423.26,135.39 423.60,134.54 423.94,133.69 424.28,132.84 424.62,131.99 424.96,131.14 425.30,130.29 425.64,129.44 425.98,128.59 426.32,127.75 426.67,126.90 427.01,126.05 427.36,125.20 427.70,124.35 428.05,123.50 428.39,122.66 428.74,121.81 429.09,120.96 429.44,120.11 429.79,119.26 430.14,118.41 430.49,117.56 430.85,116.71 431.20,115.86 431.56,115.01 431.91,114.15 432.27,113.30 432.63,112.45 432.99,111.59 433.36,110.74 433.72,109.88 434.09,109.03 434.46,108.17 434.83,107.31 435.20,106.45 435.57,105.59 435.95,104.73 436.32,103.87 436.70,103.01 437.08,102.14 437.47,101.28 437.85,100.41 438.24,99.55 438.64,98.68 439.04,97.82 439.44,96.97 439.85,96.11 440.27,95.27 440.70,94.42 441.13,93.59 441.57,92.76 442.03,91.94 442.49,91.13 442.97,90.33 443.45,89.54 443.95,88.76 444.46,88.00 444.99,87.24 445.53,86.50 446.08,85.78 446.66,85.07 447.24,84.38 447.85,83.71 448.47,83.06 449.11,82.42 449.77,81.80 450.45,81.21 451.15,80.64 451.87,80.09 452.62,79.56 453.38,79.06 454.17,78.58 454.97,78.12 455.79,77.68 456.63,77.26 457.48,76.86 458.34,76.47 459.22,76.10 460.10,75.74 460.98,75.39 461.87,75.06 462.76,74.73 463.66,74.42 464.55,74.11 465.44,73.80 466.33,73.51 467.22,73.21 468.11,72.93 469.00,72.65 469.89,72.38 470.77,72.11 471.66,71.84 472.55,71.58 473.43,71.33 474.32,71.08 475.21,70.83 476.09,70.59 476.98,70.35 477.86,70.11 478.75,69.88 479.64,69.65 480.53,69.42 481.41,69.20 482.30,68.98 483.19,68.75 484.08,68.54 484.97,68.32 485.87,68.10 486.76,67.89 487.66,67.67 488.55,67.46 489.45,67.24 490.35,67.03 491.25,66.82 492.15,66.60 493.06,66.39 493.97,66.17 494.87,65.96 495.78,65.74 496.70,65.52 497.61,65.30 498.53,65.07 499.44,64.84 500.36,64.61 501.27,64.36 502.18,64.11 503.08,63.85 503.98,63.58 504.87,63.30 505.76,63.00 506.64,62.69 507.51,62.37 508.38,62.03 509.23,61.67 510.07,61.30 510.90,60.90 511.72,60.49 512.52,60.05 513.31,59.59 514.08,59.11 514.84,58.60 515.59,58.08 516.32,57.53 517.04,56.97 517.75,56.38 518.44,55.79 519.13,55.17 519.81,54.54 520.47,53.90 521.13,53.25 521.78,52.58 522.42,51.90 523.06,51.22 523.69,50.53 524.31,49.83 524.93,49.12 525.55,48.41 526.16,47.70 526.77,46.98 527.38,46.26 527.98,45.55 528.59,44.83 529.19,44.11 529.79,43.40 530.40,42.69 531.00,41.99 531.61,41.29 532.22,40.60 532.84,39.92 533.46,39.25 534.08,38.59 534.71,37.94 535.34,37.30" fill="none" stroke="#3a3a3a" stroke-width="1.15" stroke-linejoin="round" stroke-linecap="round"/>
<polyline points="339.92,62.65 340.66,62.64 341.38,62.63 342.10,62.62 342.82,62.62 343.53,62.63 344.23,62.64 344.93,62.65 345.63,62.67 346.32,62.69 347.00,62.72 347.69,62.74 348.37,62.78 349.04,62.81 349.72,62.85 350.39,62.89 351.06,62.93 351.73,62.98 352.39,63.03 353.06,63.07 353.72,63.12 354.39,63.18 355.05,63.23 355.72,63.28 356.38,63.34 357.04,63.39 357.71,63.45 358.37,63.51 359.04,63.56 359.71,63.62 360.38,63.67 361.06,63.73 361.73,63.78 362.41,63.83 363.10,63.88 363.78,63.93 364.47,63.98 365.17,64.02 365.87,64.07 366.57,64.11 367.28,64.15 367.99,64.19 368.70,64.23 369.42,64.27 370.13,64.32 370.85,64.36 371.57,64.41 372.28,64.46 373.00,64.52 373.72,64.58 374.43,64.65 375.15,64.72 375.86,64.80 376.56,64.89 377.27,64.98 377.97,65.09 378.66,65.20 379.35,65.33 380.03,65.46 380.71,65.61 381.38,65.76 382.05,65.94 382.71,66.12 383.35,66.32 383.99,66.53 384.62,66.76 385.25,67.00 385.86,67.27 386.46,67.54 387.05,67.84 387.62,68.16 388.19,68.49 388.74,68.84 389.28,69.22 389.80,69.61 390.32,70.03 390.82,70.46 391.30,70.91 391.78,71.38 392.24,71.87 392.68,72.37 393.12,72.89 393.54,73.42 393.96,73.96 394.36,74.52 394.74,75.09 395.12,75.67 395.49,76.26 395.84,76.86 396.18,77.47 396.51,78.09 396.84,78.71 397.15,79.34 397.45,79.98 397.74,80.62 398.01,81.27 398.28,81.92 398.54,82.57 398.79,83.22 399.03,83.88 399.26,84.54 399.48,85.20 399.69,85.86 399.90,86.52 400.09,87.18 400.28,87.84 400.46,88.51 400.63,89.17 400.80,89.84 400.96,90.51 401.11,91.18 401.25,91.85 401.39,92.52 401.52,93.19 401.65,93.87 401.77,94.54 401.88,95.22 402.00,95.89 402.10,96.57 402.20,97.24 402.30,97.92 402.39,98.60 402.48,99.28 402.57,99.96 402.65,100.64 402.73,101.32 402.81,102.00 402.89,102.68 402.96,103.37 403.03,104.05 403.10,104.73 403.17,105.42 403.24,106.10 403.30,106.78 403.37,107.47 403.43,108.15 403.50,108.84 403.56,109.52 403.63,110.20 403.70,110.89 403.76,111.57 403.83,112.26 403.90,112.94 403.97,113.63 404.04,114.31 404.12,115.00 404.19,115.68 404.27,116.36 404.34,117.05 404.42,117.73 404.50,118.42 404.57,119.10 404.65,119.78 404.73,120.47 404.81,121.15 404.89,121.83 404.97,122.52 405.04,123.20 405.12,123.88 405.20,124.57 405.28,125.25 405.35,125.93 405.43,126.61 405.51,127.30 405.58,127.98 405.66,128.66 405.73,129.34 405.80,130.02 405.87,130.70 405.94,131.38 406.01,132.06 406.07,132.74 406.14,133.42 406.20,134.10 406.27,134.78 406.32,135.46 406.38,136.14 406.44,136.82 406.50,137.50 406.56,138.19 406.64,138.87 406.73,139.57 406.83,140.27 406.95,140.98 407.10,141.70 407.27,142.44 407.48,143.19 407.71,143.95 407.99,144.72 408.29,145.46 408.64,146.14 409.01,146.73 409.42,147.19 409.87,147.49 410.34,147.60 410.83,147.56 411.34,147.38 411.84,147.09 412.35,146.74 412.83,146.33 413.30,145.90 413.74,145.44 414.17,144.96 414.57,144.45 414.96,143.93 415.34,143.39 415.70,142.83 416.05,142.25 416.38,141.66 416.70,141.05 417.02,140.44 417.32,139.81 417.62,139.18 417.91,138.54 418.19,137.89 418.47,137.24 418.75,136.59 419.03,135.93 419.30,135.28 419.58,134.62 419.85,133.97 420.12,133.32 420.39,132.67 420.67,132.02 420.94,131.37 421.21,130.72 421.48,130.07 421.75,129.42 422.02,128.78 422.28,128.13 422.55,127.48 422.82,126.84 423.09,126.19 423.35,125.55 423.62,124.91 423.88,124.26 424.15,123.62 424.41,122.98 424.67,122.34 424.94,121.69 425.20,121.05 425.46,120.41 425.72,119.77 425.98,119.13 426.24,118.49 426.50,117.86 426.76,117.22 427.02,116.58 427.28,115.94 427.53,115.30 427.79,114.67 428.05,114.03 428.30,113.39 428.56,112.75 428.82,112.12 429.07,111.48 429.32,110.85 429.58,110.21 429.83,109.57 430.09,108.94 430.34,108.30 430.59,107.67 430.84,107.03 431.09,106.40 431.34,105.76 431.59,105.13 431.84,104.49 432.09,103.86 432.34,103.22 432.59,102.59 432.84,101.95 433.09,101.32 433.34,100.68 433.58,100.04 433.83,99.41 434.08,98.77 434.32,98.14 434.57,97.50 434.82,96.87 435.06,96.23 435.31,95.59 435.55,94.96 435.79,94.32 436.04,93.68 436.28,93.05 436.52,92.41 436.77,91.77 437.01,91.13 437.25,90.49 437.49,89.86 437.74,89.22 437.98,88.58 438.22,87.94 438.46,87.30 438.70,86.66 438.94,86.02 439.18,85.37 439.42,84.73 439.66,84.09 439.90,83.45 440.13,82.80 440.37,82.16 440.61,81.52 440.85,80.87 441.09,80.23 441.32,79.58 441.56,78.94 441.80,78.29 442.04,77.65 442.27,77.00 442.51,76.36 442.74,75.71 442.98,75.06 443.22,74.42 443.45,73.77 443.69,73.12 443.92,72.47 444.16,71.83 444.39,71.18 444.63,70.53 444.86,69.88 445.10,69.23 445.33,68.58 445.56,67.93 445.80,67.28 446.03,66.63 446.27,65.98 446.50,65.33 446.73,64.68 446.97,64.03 447.20,63.38 447.43,62.73 447.67,62.08 447.90,61.43 448.13,60.78 448.36,60.13 448.60,59.48 448.83,58.83 449.06,58.18 449.29,57.53 449.53,56.88 449.76,56.23 449.99,55.57 450.22,54.92 450.46,54.27 450.69,53.62 450.92,52.97 451.15,52.32 451.39,51.67 451.62,51.02 451.85,50.37 452.08,49.72 452.31,49.07 452.55,48.42 452.78,47.77 453.01,47.11 453.24,46.46 453.48,45.81 453.71,45.16 453.94,44.51 454.17,43.86 454.40,43.22 454.64,42.57 454.87,41.92 455.10,41.27 455.34,40.62 455.57,39.97 455.80,39.32 456.03,38.67 456.27,38.02 456.50,37.38 456.73,36.73 456.97,36.08 457.20,35.43 457.43,34.79 457.67,34.14 457.90,33.50 458.14,32.85 458.37,32.20 458.60,31.56 458.84,30.91 459.07,30.27 459.31,29.62 459.54,28.98 459.78,28.34 460.01,27.69 460.25,27.05 460.49,26.41 460.72,25.76 460.96,25.12 461.19,24.48 461.43,23.84 461.67,23.20 461.90,22.56 462.14,21.92 462.38,21.28 462.62,20.64 462.85,20.00 463.09,19.36 463.33,18.73" fill="none" stroke="#ff2a2a" stroke-width="1.15" stroke-linejoin="round" stroke-linecap="round"/>
<polyline points="340.02,62.61 340.56,62.62 341.11,62.63 341.66,62.65 342.21,62.66 342.76,62.68 343.31,62.69 343.86,62.71 344.42,62.72 344.97,62.74 345.52,62.76 346.07,62.77 346.63,62.79 347.18,62.81 347.74,62.83 348.29,62.85 348.85,62.87 349.40,62.89 349.96,62.91 350.52,62.93 351.07,62.96 351.63,62.98 352.19,63.00 352.75,63.03 353.30,63.05 353.86,63.08 354.42,63.10 354.98,63.13 355.54,63.15 356.10,63.18 356.65,63.21 357.21,63.24 357.77,63.26 358.33,63.29 358.89,63.32 359.44,63.35 360.00,63.38 360.56,63.41 361.12,63.44 361.68,63.47 362.23,63.50 362.79,63.54 363.35,63.57 363.90,63.60 364.46,63.63 365.02,63.67 365.57,63.70 366.13,63.73 366.68,63.77 367.24,63.80 367.79,63.84 368.34,63.87 368.90,63.91 369.45,63.94 370.00,63.98 370.55,64.01 371.10,64.05 371.65,64.09 372.20,64.13 372.75,64.16 373.30,64.20 373.85,64.24 374.39,64.28 374.94,64.31 375.48,64.35 376.03,64.39 376.57,64.43 377.11,64.47 377.66,64.52 378.20,64.56 378.74,64.60 379.28,64.65 379.83,64.70 380.37,64.75 380.91,64.80 381.45,64.86 381.99,64.91 382.54,64.97 383.08,65.04 383.62,65.10 384.17,65.17 384.71,65.25 385.25,65.32 385.80,65.41 386.35,65.49 386.89,65.58 387.44,65.67 387.99,65.77 388.54,65.88 389.09,65.98 389.64,66.10 390.20,66.22 390.75,66.34 391.31,66.47 391.87,66.61 392.43,66.75 392.99,66.90 393.55,67.05 394.11,67.22 394.67,67.39 395.23,67.57 395.78,67.75 396.32,67.95 396.86,68.16 397.39,68.38 397.91,68.61 398.42,68.86 398.92,69.11 399.40,69.38 399.87,69.66 400.33,69.95 400.78,70.25 401.22,70.57 401.65,70.89 402.06,71.23 402.47,71.57 402.86,71.93 403.24,72.29 403.62,72.67 403.98,73.05 404.33,73.45 404.67,73.85 405.01,74.27 405.33,74.69 405.64,75.11 405.95,75.55 406.24,76.00 406.53,76.45 406.81,76.91 407.07,77.38 407.34,77.85 407.59,78.33 407.83,78.82 408.07,79.31 408.29,79.81 408.51,80.32 408.72,80.83 408.93,81.34 409.13,81.86 409.32,82.39 409.50,82.92 409.67,83.45 409.84,83.99 410.01,84.53 410.16,85.08 410.31,85.62 410.46,86.18 410.60,86.73 410.73,87.29 410.85,87.85 410.98,88.41 411.09,88.97 411.20,89.54 411.31,90.10 411.41,90.67 411.50,91.24 411.60,91.81 411.68,92.38 411.77,92.95 411.85,93.52 411.92,94.09 411.99,94.66 412.06,95.23 412.12,95.80 412.18,96.36 412.24,96.93 412.30,97.49 412.35,98.05 412.40,98.61 412.45,99.17 412.51,99.73 412.56,100.29 412.61,100.84 412.66,101.39 412.72,101.94 412.78,102.49 412.84,103.04 412.90,103.58 412.97,104.12 413.04,104.66 413.12,105.20 413.21,105.74 413.30,106.27 413.39,106.80 413.50,107.33 413.61,107.85 413.73,108.38 413.86,108.90 414.00,109.41 414.16,109.93 414.32,110.44 414.49,110.95 414.67,111.45 414.87,111.96 415.08,112.46 415.30,112.95 415.54,113.45 415.79,113.94 416.06,114.43 416.34,114.91 416.64,115.39 416.96,115.86 417.29,116.30 417.65,116.68 418.02,116.99 418.42,117.20 418.84,117.30 419.27,117.29 419.71,117.18 420.14,116.98 420.55,116.70 420.94,116.36 421.31,115.96 421.67,115.52 422.01,115.05 422.34,114.55 422.66,114.04 422.98,113.53 423.30,113.02 423.61,112.52 423.91,112.01 424.21,111.50 424.50,110.99 424.79,110.48 425.08,109.97 425.36,109.47 425.64,108.96 425.91,108.45 426.18,107.94 426.45,107.44 426.71,106.93 426.97,106.42 427.22,105.91 427.47,105.41 427.72,104.90 427.96,104.39 428.20,103.89 428.44,103.38 428.67,102.87 428.91,102.36 429.13,101.86 429.36,101.35 429.58,100.84 429.80,100.33 430.02,99.83 430.24,99.32 430.45,98.81 430.66,98.30 430.87,97.79 431.08,97.28 431.28,96.78 431.48,96.27 431.69,95.76 431.89,95.25 432.08,94.74 432.28,94.23 432.47,93.72 432.67,93.21 432.86,92.70 433.05,92.19 433.24,91.68 433.43,91.17 433.62,90.65 433.81,90.14 434.00,89.63 434.18,89.12 434.37,88.61 434.56,88.09 434.74,87.58 434.93,87.07 435.11,86.55 435.30,86.04 435.49,85.52 435.67,85.01 435.86,84.49 436.04,83.97 436.23,83.46 436.41,82.94 436.60,82.42 436.78,81.91 436.97,81.39 437.15,80.87 437.34,80.35 437.53,79.83 437.71,79.31 437.90,78.79 438.08,78.27 438.27,77.75 438.45,77.23 438.64,76.71 438.82,76.19 439.00,75.67 439.19,75.15 439.37,74.63 439.56,74.11 439.74,73.58 439.93,73.06 440.11,72.54 440.29,72.01 440.48,71.49 440.66,70.97 440.85,70.44 441.03,69.92 441.21,69.40 441.40,68.87 441.58,68.35 441.76,67.82 441.95,67.30 442.13,66.77 442.31,66.24 442.49,65.72 442.68,65.19 442.86,64.67 443.04,64.14 443.22,63.61 443.40,63.09 443.59,62.56 443.77,62.03 443.95,61.51 444.13,60.98 444.31,60.45 444.49,59.92 444.67,59.40 444.85,58.87 445.03,58.34 445.21,57.81 445.39,57.28 445.57,56.75 445.75,56.23 445.93,55.70 446.11,55.17 446.29,54.64 446.47,54.11 446.65,53.58 446.82,53.05 447.00,52.52 447.18,51.99 447.36,51.46 447.53,50.93 447.71,50.41 447.89,49.88 448.06,49.35 448.24,48.82 448.42,48.29 448.59,47.76 448.77,47.23 448.94,46.70 449.12,46.17 449.29,45.64 449.47,45.11 449.64,44.58 449.81,44.05 449.99,43.52 450.16,42.99 450.33,42.46 450.51,41.93 450.68,41.40 450.85,40.87 451.02,40.34 451.19,39.81 451.37,39.28 451.54,38.75 451.71,38.22 451.88,37.69 452.05,37.16 452.22,36.63 452.39,36.10 452.55,35.57 452.72,35.04 452.89,34.51 453.06,33.99 453.23,33.46 453.39,32.93 453.56,32.40 453.73,31.87 453.89,31.34 454.06,30.81 454.22,30.28 454.39,29.76 454.55,29.23 454.72,28.70 454.88,28.17 455.04,27.65 455.21,27.12 455.37,26.59 455.53,26.06 455.69,25.54 455.85,25.01 456.02,24.48 456.18,23.96 456.34,23.43 456.50,22.90 456.65,22.38 456.81,21.85 456.97,21.33 457.13,20.80 457.29,20.28 457.44,19.75 457.60,19.23 457.76,18.70" fill="none" stroke="#2a8c8c" stroke-width="1.15" stroke-linejoin="round" stroke-linecap="round"/>
<polyline points="321.13,62.43 321.69,62.41 322.26,62.39 322.82,62.37 323.38,62.35 323.94,62.34 324.50,62.33 325.06,62.32 325.61,62.31 326.17,62.30 326.73,62.29 327.28,62.29 327.84,62.28 328.39,62.28 328.95,62.28 329.50,62.28 330.05,62.28 330.60,62.29 331.15,62.29 331.71,62.30 332.26,62.31 332.80,62.32 333.35,62.33 333.90,62.34 334.45,62.35 335.00,62.36 335.55,62.38 336.09,62.39 336.64,62.41 337.19,62.43 337.73,62.44 338.28,62.46 338.82,62.48 339.37,62.50 339.91,62.53 340.46,62.55 341.00,62.57 341.54,62.60 342.09,62.62 342.63,62.64 343.17,62.67 343.72,62.70 344.26,62.72 344.80,62.75 345.34,62.78 345.89,62.81 346.43,62.83 346.97,62.86 347.51,62.89 348.06,62.92 348.60,62.95 349.14,62.98 349.68,63.01 350.22,63.04 350.77,63.07 351.31,63.10 351.85,63.13 352.40,63.16 352.94,63.19 353.48,63.22 354.02,63.25 354.57,63.28 355.11,63.31 355.66,63.34 356.20,63.37 356.74,63.40 357.29,63.43 357.83,63.45 358.38,63.48 358.92,63.51 359.47,63.54 360.02,63.56 360.56,63.59 361.11,63.62 361.66,63.64 362.21,63.66 362.75,63.69 363.30,63.71 363.85,63.73 364.40,63.76 364.95,63.78 365.50,63.80 366.05,63.82 366.61,63.83 367.16,63.85 367.71,63.87 368.27,63.88 368.82,63.90 369.38,63.91 369.93,63.92 370.49,63.94 371.05,63.95 371.60,63.96 372.16,63.96 372.72,63.97 373.28,63.98 373.84,63.99 374.40,64.00 374.96,64.00 375.52,64.01 376.08,64.02 376.64,64.03 377.20,64.04 377.76,64.05 378.32,64.06 378.88,64.08 379.44,64.09 380.00,64.11 380.56,64.13 381.12,64.15 381.68,64.17 382.24,64.19 382.79,64.22 383.35,64.25 383.90,64.28 384.46,64.31 385.01,64.35 385.57,64.39 386.12,64.43 386.67,64.48 387.22,64.53 387.77,64.59 388.31,64.64 388.86,64.71 389.40,64.77 389.95,64.84 390.49,64.92 391.03,65.00 391.57,65.08 392.11,65.17 392.64,65.27 393.18,65.37 393.71,65.47 394.24,65.59 394.76,65.70 395.29,65.82 395.81,65.95 396.34,66.09 396.86,66.23 397.37,66.38 397.89,66.53 398.40,66.69 398.91,66.86 399.42,67.04 399.92,67.22 400.43,67.41 400.93,67.61 401.42,67.82 401.92,68.03 402.41,68.25 402.90,68.48 403.38,68.72 403.86,68.97 404.34,69.22 404.82,69.49 405.28,69.76 405.75,70.04 406.20,70.33 406.66,70.63 407.10,70.94 407.54,71.26 407.96,71.59 408.38,71.93 408.79,72.28 409.20,72.63 409.59,73.00 409.97,73.38 410.34,73.77 410.70,74.16 411.05,74.57 411.38,74.99 411.70,75.42 412.01,75.86 412.31,76.31 412.59,76.77 412.86,77.24 413.11,77.73 413.34,78.22 413.57,78.72 413.77,79.24 413.97,79.76 414.15,80.29 414.32,80.83 414.49,81.37 414.64,81.92 414.78,82.47 414.91,83.03 415.04,83.59 415.16,84.16 415.27,84.73 415.38,85.30 415.48,85.87 415.58,86.44 415.68,87.01 415.77,87.58 415.86,88.14 415.95,88.71 416.04,89.27 416.14,89.83 416.23,90.38 416.32,90.92 416.42,91.47 416.52,92.01 416.62,92.54 416.73,93.07 416.84,93.60 416.95,94.12 417.07,94.64 417.20,95.16 417.33,95.67 417.47,96.19 417.62,96.70 417.78,97.21 417.94,97.73 418.11,98.24 418.29,98.75 418.49,99.26 418.69,99.77 418.90,100.28 419.12,100.79 419.36,101.31 419.61,101.83 419.87,102.34 420.15,102.83 420.44,103.29 420.76,103.70 421.10,104.03 421.46,104.29 421.86,104.44 422.28,104.48 422.73,104.40 423.20,104.21 423.66,103.93 424.09,103.60 424.50,103.21 424.87,102.79 425.22,102.33 425.55,101.84 425.85,101.32 426.14,100.79 426.42,100.25 426.69,99.70 426.94,99.15 427.20,98.61 427.45,98.08 427.71,97.56 427.96,97.05 428.21,96.55 428.46,96.06 428.70,95.57 428.95,95.08 429.20,94.60 429.44,94.12 429.68,93.65 429.93,93.18 430.17,92.70 430.41,92.23 430.65,91.76 430.89,91.28 431.13,90.80 431.37,90.32 431.61,89.84 431.85,89.36 432.09,88.88 432.33,88.39 432.56,87.90 432.80,87.41 433.03,86.92 433.27,86.43 433.50,85.94 433.73,85.44 433.96,84.94 434.19,84.45 434.42,83.95 434.65,83.45 434.88,82.95 435.11,82.45 435.33,81.94 435.56,81.44 435.78,80.94 436.00,80.43 436.22,79.92 436.44,79.42 436.66,78.91 436.88,78.40 437.09,77.89 437.31,77.38 437.52,76.87 437.73,76.36 437.94,75.85 438.15,75.34 438.36,74.83 438.56,74.31 438.77,73.80 438.97,73.29 439.17,72.77 439.37,72.26 439.57,71.75 439.77,71.23 439.96,70.72 440.16,70.20 440.35,69.69 440.54,69.17 440.73,68.66 440.92,68.14 441.11,67.62 441.30,67.11 441.48,66.59 441.67,66.07 441.85,65.56 442.04,65.04 442.22,64.52 442.40,64.00 442.58,63.48 442.76,62.97 442.94,62.45 443.12,61.93 443.29,61.41 443.47,60.89 443.64,60.37 443.82,59.85 443.99,59.33 444.16,58.81 444.34,58.29 444.51,57.77 444.68,57.25 444.85,56.73 445.02,56.20 445.19,55.68 445.36,55.16 445.53,54.64 445.69,54.12 445.86,53.60 446.03,53.08 446.19,52.55 446.36,52.03 446.53,51.51 446.69,50.99 446.86,50.47 447.02,49.94 447.19,49.42 447.35,48.90 447.51,48.38 447.68,47.85 447.84,47.33 448.01,46.81 448.17,46.29 448.33,45.76 448.50,45.24 448.66,44.72 448.82,44.19 448.99,43.67 449.15,43.15 449.32,42.63 449.48,42.10 449.64,41.58 449.81,41.06 449.97,40.54 450.14,40.01 450.30,39.49 450.47,38.97 450.63,38.45 450.80,37.92 450.96,37.40 451.13,36.88 451.30,36.36 451.46,35.83 451.63,35.31 451.80,34.79 451.97,34.27 452.14,33.75 452.31,33.23 452.48,32.70 452.65,32.18 452.82,31.66 452.99,31.14 453.17,30.62 453.34,30.10 453.52,29.58 453.69,29.06 453.87,28.54 454.04,28.02 454.22,27.50 454.40,26.98 454.58,26.46 454.76,25.94 454.94,25.42 455.12,24.90 455.31,24.38 455.49,23.87 455.68,23.35 455.86,22.83 456.05,22.31 456.24,21.80 456.43,21.28 456.62,20.76 456.81,20.25 457.01,19.73 457.20,19.21 457.40,18.70" fill="none" stroke="#ff2aff" stroke-width="1.15" stroke-linejoin="round" stroke-linecap="round"/>
<line x1="450.6" y1="27.6" x2="443.3" y2="44.5" stroke="#333" stroke-width="0.8"/>
<polygon points="440.9,50.4 441.2,43.4 444.9,45.0" fill="#222"/>
<defs><pattern id="h" patternUnits="userSpaceOnUse" width="4.8" height="4.8"><rect width="4.8" height="4.8" fill="#8e8e8e"/><path d="M-1.2,1.2 L1.2,-1.2 M0,4.8 L4.8,0 M3.6,6 L6,3.6" stroke="#6c6c6c" stroke-width="0.8"/></pattern></defs>
<line x1="194.40" y1="444.6" x2="194.40" y2="448.58" stroke="#a4a4a4" stroke-width="0.9"/>
<line x1="192.4" y1="444.6" x2="196.4" y2="444.6" stroke="#a4a4a4" stroke-width="0.9"/>
<rect x="184.4" y="448.58" width="19.20" height="17.12" fill="url(#h)" stroke="#555" stroke-width="0.8"/>
<line x1="194.40" y1="448.58" x2="194.40" y2="452.56" stroke="#6a6a6a" stroke-width="0.8"/>
<line x1="215.30" y1="355.2" x2="215.30" y2="360.24" stroke="#a4a4a4" stroke-width="0.9"/>
<line x1="213.3" y1="355.2" x2="217.3" y2="355.2" stroke="#a4a4a4" stroke-width="0.9"/>
<rect x="206.3" y="360.24" width="19.10" height="105.46" fill="url(#h)" stroke="#555" stroke-width="0.8"/>
<line x1="215.30" y1="360.24" x2="215.30" y2="365.28" stroke="#6a6a6a" stroke-width="0.8"/>
<line x1="258.00" y1="295.5" x2="258.00" y2="302.20" stroke="#a4a4a4" stroke-width="0.9"/>
<line x1="256.3" y1="295.5" x2="259.7" y2="295.5" stroke="#a4a4a4" stroke-width="0.9"/>
<rect x="248.0" y="302.20" width="20.00" height="163.50" fill="url(#h)" stroke="#555" stroke-width="0.8"/>
<line x1="258.00" y1="302.20" x2="258.00" y2="308.91" stroke="#6a6a6a" stroke-width="0.8"/>
<line x1="359.65" y1="293.8" x2="359.65" y2="300.32" stroke="#a4a4a4" stroke-width="0.9"/>
<line x1="358.1" y1="293.8" x2="361.2" y2="293.8" stroke="#a4a4a4" stroke-width="0.9"/>
<rect x="349.9" y="300.32" width="19.30" height="165.38" fill="url(#h)" stroke="#555" stroke-width="0.8"/>
<line x1="359.65" y1="300.32" x2="359.65" y2="306.84" stroke="#6a6a6a" stroke-width="0.8"/>
<polyline points="173.2,277.2 385.6,277.2 385.6,465.7" fill="none" stroke="#1a1a1a" stroke-width="1.5" stroke-linejoin="miter"/>
<line x1="173.2" y1="276.7" x2="173.2" y2="466.59999999999997" stroke="#1a1a1a" stroke-width="1.8"/>
<line x1="172.29999999999998" y1="465.7" x2="386.3" y2="465.7" stroke="#1a1a1a" stroke-width="1.8"/>
<line x1="169.7" y1="465.70" x2="173.2" y2="465.70" stroke="#1a1a1a" stroke-width="1.35"/>
<text transform="translate(166.7,468.30) scale(1,1.1)" font-size="7.2" fill="#505050" stroke="#505050" stroke-width="0.22" text-anchor="end">50</text>
<line x1="169.7" y1="431.46" x2="173.2" y2="431.46" stroke="#1a1a1a" stroke-width="1.35"/>
<text transform="translate(166.7,434.06) scale(1,1.1)" font-size="7.2" fill="#505050" stroke="#505050" stroke-width="0.22" text-anchor="end">60</text>
<line x1="169.7" y1="397.22" x2="173.2" y2="397.22" stroke="#1a1a1a" stroke-width="1.35"/>
<text transform="translate(166.7,399.82) scale(1,1.1)" font-size="7.2" fill="#505050" stroke="#505050" stroke-width="0.22" text-anchor="end">70</text>
<line x1="169.7" y1="362.98" x2="173.2" y2="362.98" stroke="#1a1a1a" stroke-width="1.35"/>
<text transform="translate(166.7,365.58) scale(1,1.1)" font-size="7.2" fill="#505050" stroke="#505050" stroke-width="0.22" text-anchor="end">80</text>
<line x1="169.7" y1="328.74" x2="173.2" y2="328.74" stroke="#1a1a1a" stroke-width="1.35"/>
<text transform="translate(166.7,331.34) scale(1,1.1)" font-size="7.2" fill="#505050" stroke="#505050" stroke-width="0.22" text-anchor="end">90</text>
<line x1="169.7" y1="294.50" x2="173.2" y2="294.50" stroke="#1a1a1a" stroke-width="1.35"/>
<text transform="translate(166.7,297.10) scale(1,1.1)" font-size="7.2" fill="#505050" stroke="#505050" stroke-width="0.22" text-anchor="end">100</text>
<line x1="171.2" y1="448.58" x2="173.2" y2="448.58" stroke="#1a1a1a" stroke-width="1.35"/>
<line x1="171.2" y1="414.34" x2="173.2" y2="414.34" stroke="#1a1a1a" stroke-width="1.35"/>
<line x1="171.2" y1="380.10" x2="173.2" y2="380.10" stroke="#1a1a1a" stroke-width="1.35"/>
<line x1="171.2" y1="345.86" x2="173.2" y2="345.86" stroke="#1a1a1a" stroke-width="1.35"/>
<line x1="171.2" y1="311.62" x2="173.2" y2="311.62" stroke="#1a1a1a" stroke-width="1.35"/>
<line x1="173.20" y1="465.7" x2="173.20" y2="469.5" stroke="#1a1a1a" stroke-width="1.35"/>
<text transform="translate(173.20,478.0) scale(1,1.1)" font-size="7" font-weight="bold" fill="#2a2a2a" text-anchor="middle">0.00</text>
<line x1="201.50" y1="465.7" x2="201.50" y2="469.5" stroke="#1a1a1a" stroke-width="1.35"/>
<text transform="translate(201.50,478.0) scale(1,1.1)" font-size="7" font-weight="bold" fill="#2a2a2a" text-anchor="middle">0.05</text>
<line x1="229.80" y1="465.7" x2="229.80" y2="469.5" stroke="#1a1a1a" stroke-width="1.35"/>
<text transform="translate(229.80,478.0) scale(1,1.1)" font-size="7" font-weight="bold" fill="#2a2a2a" text-anchor="middle">0.10</text>
<line x1="258.10" y1="465.7" x2="258.10" y2="469.5" stroke="#1a1a1a" stroke-width="1.35"/>
<text transform="translate(258.10,478.0) scale(1,1.1)" font-size="7" font-weight="bold" fill="#2a2a2a" text-anchor="middle">0.15</text>
<line x1="286.40" y1="465.7" x2="286.40" y2="469.5" stroke="#1a1a1a" stroke-width="1.35"/>
<text transform="translate(286.40,478.0) scale(1,1.1)" font-size="7" font-weight="bold" fill="#2a2a2a" text-anchor="middle">0.20</text>
<line x1="314.70" y1="465.7" x2="314.70" y2="469.5" stroke="#1a1a1a" stroke-width="1.35"/>
<text transform="translate(314.70,478.0) scale(1,1.1)" font-size="7" font-weight="bold" fill="#2a2a2a" text-anchor="middle">0.25</text>
<line x1="343.00" y1="465.7" x2="343.00" y2="469.5" stroke="#1a1a1a" stroke-width="1.35"/>
<text transform="translate(343.00,478.0) scale(1,1.1)" font-size="7" font-weight="bold" fill="#2a2a2a" text-anchor="middle">0.30</text>
<line x1="371.30" y1="465.7" x2="371.30" y2="469.5" stroke="#1a1a1a" stroke-width="1.35"/>
<text transform="translate(371.30,478.0) scale(1,1.1)" font-size="7" font-weight="bold" fill="#2a2a2a" text-anchor="middle">0.35</text>
<line x1="187.35" y1="465.7" x2="187.35" y2="467.7" stroke="#1a1a1a" stroke-width="1.35"/>
<line x1="215.65" y1="465.7" x2="215.65" y2="467.7" stroke="#1a1a1a" stroke-width="1.35"/>
<line x1="243.95" y1="465.7" x2="243.95" y2="467.7" stroke="#1a1a1a" stroke-width="1.35"/>
<line x1="272.25" y1="465.7" x2="272.25" y2="467.7" stroke="#1a1a1a" stroke-width="1.35"/>
<line x1="300.55" y1="465.7" x2="300.55" y2="467.7" stroke="#1a1a1a" stroke-width="1.35"/>
<line x1="328.85" y1="465.7" x2="328.85" y2="467.7" stroke="#1a1a1a" stroke-width="1.35"/>
<line x1="357.15" y1="465.7" x2="357.15" y2="467.7" stroke="#1a1a1a" stroke-width="1.35"/>
<text x="265.3" y="488.2" font-size="8.9" font-weight="bold" fill="#111" text-anchor="middle">[Urea] M</text>
<text transform="translate(153.1,362.0) rotate(-90)" x="0" y="0" font-size="8.4" font-weight="bold" fill="#111" text-anchor="middle">Current density (mA/cm<tspan font-size="5.8" dy="-3.1">2</tspan><tspan dy="3.1">)</tspan></text>
<text x="152.3" y="278.5" font-size="14" font-weight="bold" fill="#000">c</text>
</svg>
</body></html>
